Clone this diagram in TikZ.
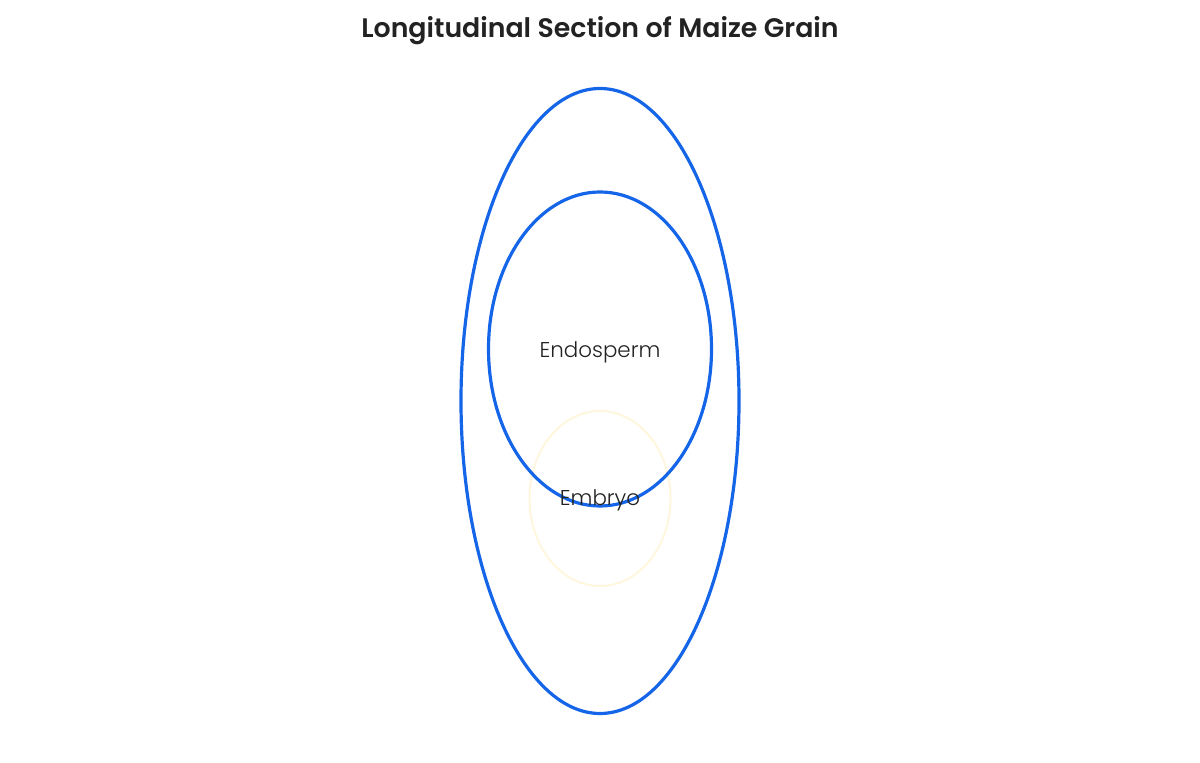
\documentclass[tikz,border=0pt]{standalone}
\usepackage{fontspec}
\setmainfont{Poppins Light}
\newfontfamily\titlefont{Poppins SemiBold}
\usetikzlibrary{shapes.geometric}
\definecolor{grainblue}{RGB}{21,101,232}
\definecolor{embryocream}{RGB}{255,246,222}
\definecolor{inktext}{RGB}{34,34,34}
\tikzset{
    part/.style={ellipse,draw=grainblue,line width=1.6pt,inner sep=0pt},
    partlabel/.style={text=inktext,font=\fontsize{10.7}{12}\selectfont},
}
\begin{document}
\begin{tikzpicture}[x=0.5pt,y=-0.5pt]
        \useasboundingbox (0,0) rectangle (1200,763);

        \node[text=inktext,font=\titlefont\fontsize{13.4}{15}\selectfont] (title) at (600,31) {Longitudinal Section of Maize Grain};

        \node[ellipse,draw=embryocream,line width=1pt,minimum width=70.5pt,minimum height=87.5pt] (embryo) at (600,498.5) {};
        \node[part,minimum width=111.5pt,minimum height=157pt] (endosperm) at (600,349) {};
        \node[part,minimum width=139pt,minimum height=312.5pt] (grain) at (600,401) {};

        \node[partlabel] at ([yshift=-1.5pt]endosperm) {Endosperm};
        \node[partlabel] at ([yshift=-1pt]embryo) {Embryo};
    \end{tikzpicture}
\end{document}
